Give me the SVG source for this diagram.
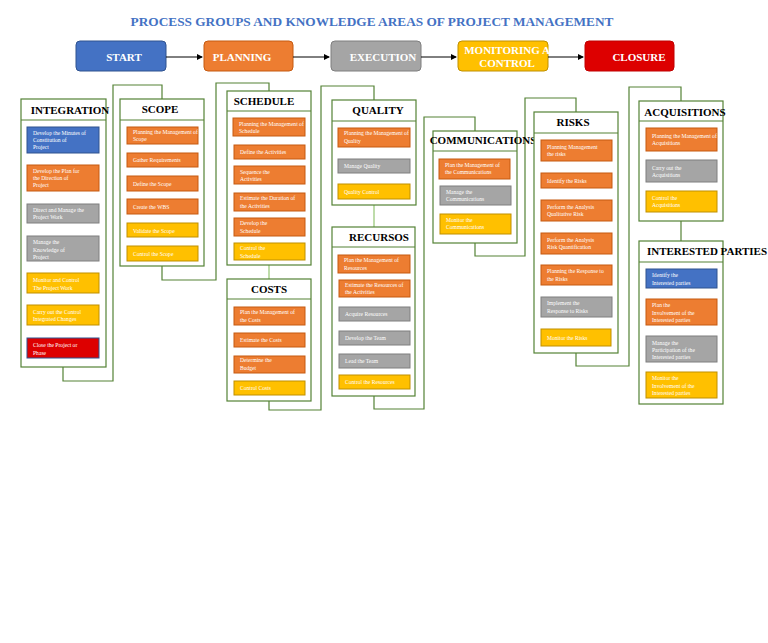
<svg xmlns="http://www.w3.org/2000/svg" width="768" height="643" viewBox="0 0 768 643">
<defs><marker id="ar" markerWidth="6" markerHeight="6" refX="5" refY="3" orient="auto"><path d="M0,0 L6,3 L0,6 z" fill="#000"/></marker></defs>
<style>
.bx{fill:#fff;stroke:#548235;stroke-width:1.2}
.ln{fill:none;stroke:#548235;stroke-width:1.2}
.lt{fill:none;stroke:#A9D18E;stroke-width:1.5}
.ar{stroke:#000;fill:none;marker-end:url(#ar)}
.h{font-family:"Liberation Serif",serif;font-weight:bold;font-size:11px;fill:#000;text-anchor:middle}
.t{font-family:"Liberation Serif",serif;font-size:5.6px;fill:#fff}
.b{fill:#4472C4;stroke:#2F528F}
.o{fill:#ED7D31;stroke:#C55A11}
.g{fill:#A5A5A5;stroke:#7F7F7F}
.y{fill:#FFC000;stroke:#BF9000}
.r{fill:#DD0000;stroke:#2F528F}
.top{font-family:"Liberation Serif",serif;font-weight:bold;font-size:11px;fill:#fff;text-anchor:middle}
</style>
<rect width="768" height="643" fill="#fff"/>
<text x="372" y="26" font-family="Liberation Serif,serif" font-weight="bold" font-size="13.3" fill="#4472C4" text-anchor="middle">PROCESS GROUPS AND KNOWLEDGE AREAS OF PROJECT MANAGEMENT</text>
<g id="phases">
<rect x="76" y="41" width="90" height="30" rx="4" fill="#4472C4" stroke="#2F528F"/><text class="top" x="124" y="61">START</text>
<rect x="204" y="41" width="89" height="30" rx="4" fill="#ED7D31" stroke="#C55A11"/><text class="top" x="242" y="61">PLANNING</text>
<rect x="331" y="41" width="90" height="30" rx="4" fill="#A5A5A5" stroke="#7F7F7F"/><text class="top" x="383" y="61">EXECUTION</text>
<rect x="458" y="41" width="90" height="30" rx="4" fill="#FFC000" stroke="#BF9000"/><text class="top" x="511" y="54">MONITORING AN</text><text class="top" x="507" y="67">CONTROL</text>
<rect x="585" y="41" width="89" height="30" rx="4" fill="#DD0000" stroke="#C00000"/><text class="top" x="639" y="61">CLOSURE</text>
</g>
<g id="connectors">
<path class="ar" d="M166,57H202"/><path class="ar" d="M293,57H329"/><path class="ar" d="M421,57H456"/><path class="ar" d="M548,57H583"/>
<path class="ln" d="M63,367V381H113V85H162V99"/>
<path class="ln" d="M162,266V280H216V83H269V91"/>
<path class="lt" d="M269,265V279"/>
<path class="ln" d="M269,401V410H321V86H374V100"/>
<path class="lt" d="M374,205V227"/>
<path class="ln" d="M374,396V409H424V117H475V131"/>
<path class="ln" d="M475,243V256H525V98H576V112"/>
<path class="ln" d="M576,353V366H629V87H681V101"/>
<path class="ln" d="M681,221V241"/>
</g>
<g id="integration">
<rect class="bx" x="21" y="99" width="85" height="268"/><path class="ln" d="M21,120H106"/><text class="h" x="70" y="114">INTEGRATION</text>
<rect class="b" x="27" y="127" width="72" height="26"/><text class="t" x="33" y="135">Develop the Minutes of<tspan x="33" dy="7">Constitution of</tspan><tspan x="33" dy="7">Project</tspan></text>
<rect class="o" x="27" y="165" width="72" height="26"/><text class="t" x="33" y="173">Develop the Plan for<tspan x="33" dy="7">the Direction of</tspan><tspan x="33" dy="7">Project</tspan></text>
<rect class="g" x="27" y="204" width="72" height="19"/><text class="t" x="33" y="212">Direct and Manage the<tspan x="33" dy="7">Project Work</tspan></text>
<rect class="g" x="27" y="236" width="72" height="25"/><text class="t" x="33" y="244">Manage the<tspan x="33" dy="8">Knowledge of</tspan><tspan x="33" dy="7">Project</tspan></text>
<rect class="y" x="27" y="273" width="72" height="20"/><text class="t" x="33" y="282">Monitor and Control<tspan x="33" dy="8">The Project Work</tspan></text>
<rect class="y" x="27" y="305" width="72" height="20"/><text class="t" x="33" y="314">Carry out the Control<tspan x="33" dy="7">Integrated Changes</tspan></text>
<rect class="r" x="27" y="338" width="72" height="20"/><text class="t" x="33" y="347">Close the Project or<tspan x="33" dy="8">Phase</tspan></text>
</g>
<g id="scope">
<rect class="bx" x="120" y="99" width="84" height="167"/><path class="ln" d="M120,120H204"/><text class="h" x="160" y="113">SCOPE</text>
<rect class="o" x="127" y="127" width="71" height="17"/><text class="t" x="133" y="134">Planning the Management of<tspan x="133" dy="7">Scope</tspan></text>
<rect class="o" x="127" y="153" width="71" height="14"/><text class="t" x="133" y="162">Gather Requirements</text>
<rect class="o" x="127" y="176" width="71" height="15"/><text class="t" x="133" y="186">Define the Scope</text>
<rect class="o" x="127" y="199" width="71" height="15"/><text class="t" x="133" y="209">Create the WBS</text>
<rect class="y" x="127" y="223" width="71" height="14"/><text class="t" x="133" y="233">Validate the Scope</text>
<rect class="y" x="127" y="246" width="71" height="15"/><text class="t" x="133" y="256">Control the Scope</text>
</g>
<g id="schedule">
<rect class="bx" x="227" y="91" width="84" height="174"/><path class="ln" d="M227,111H311"/><text class="h" x="264" y="105">SCHEDULE</text>
<rect class="o" x="233" y="118" width="72" height="18"/><text class="t" x="239" y="126">Planning the Management of<tspan x="239" dy="7">Schedule</tspan></text>
<rect class="o" x="234" y="145" width="71" height="14"/><text class="t" x="240" y="154">Define the Activities</text>
<rect class="o" x="234" y="166" width="71" height="18"/><text class="t" x="240" y="174">Sequence the<tspan x="240" dy="7">Activities</tspan></text>
<rect class="o" x="234" y="193" width="71" height="18"/><text class="t" x="240" y="200">Estimate the Duration of<tspan x="240" dy="8">the Activities</tspan></text>
<rect class="o" x="234" y="218" width="71" height="18"/><text class="t" x="240" y="225">Develop the<tspan x="240" dy="8">Schedule</tspan></text>
<rect class="y" x="234" y="243" width="71" height="17"/><text class="t" x="240" y="250">Control the<tspan x="240" dy="8">Schedule</tspan></text>
</g>
<g id="costs">
<rect class="bx" x="227" y="279" width="84" height="122"/><path class="ln" d="M227,299H311"/><text class="h" x="269" y="293">COSTS</text>
<rect class="o" x="234" y="307" width="71" height="18"/><text class="t" x="240" y="314">Plan the Management of<tspan x="240" dy="8">the Costs</tspan></text>
<rect class="o" x="234" y="333" width="71" height="14"/><text class="t" x="240" y="342">Estimate the Costs</text>
<rect class="o" x="234" y="356" width="71" height="17"/><text class="t" x="240" y="362">Determine the<tspan x="240" dy="8">Budget</tspan></text>
<rect class="y" x="234" y="381" width="71" height="14"/><text class="t" x="240" y="390">Control Costs</text>
</g>
<g id="quality">
<rect class="bx" x="332" y="100" width="84" height="105"/><path class="ln" d="M332,121H416"/><text class="h" x="378" y="114">QUALITY</text>
<rect class="o" x="338" y="128" width="72" height="19"/><text class="t" x="344" y="135">Planning the Management of<tspan x="344" dy="8">Quality</tspan></text>
<rect class="g" x="338" y="159" width="72" height="14"/><text class="t" x="344" y="168">Manage Quality</text>
<rect class="y" x="338" y="184" width="72" height="15"/><text class="t" x="344" y="194">Quality Control</text>
</g>
<g id="recursos">
<rect class="bx" x="332" y="227" width="83" height="169"/><path class="ln" d="M332,247H415"/><text class="h" x="379" y="241">RECURSOS</text>
<rect class="o" x="338" y="255" width="72" height="18"/><text class="t" x="344" y="262">Plan the Management of<tspan x="344" dy="8">Resources</tspan></text>
<rect class="o" x="339" y="280" width="71" height="17"/><text class="t" x="345" y="287">Estimate the Resources of<tspan x="345" dy="7">the Activities</tspan></text>
<rect class="g" x="339" y="307" width="71" height="14"/><text class="t" x="345" y="316">Acquire Resources</text>
<rect class="g" x="339" y="331" width="71" height="14"/><text class="t" x="345" y="340">Develop the Team</text>
<rect class="g" x="339" y="354" width="71" height="14"/><text class="t" x="345" y="363">Lead the Team</text>
<rect class="y" x="339" y="375" width="71" height="14"/><text class="t" x="345" y="384">Control the Resources</text>
</g>
<g id="communications">
<rect class="bx" x="433" y="131" width="84" height="112"/><path class="ln" d="M433,151H517"/><text class="h" x="483" y="144" font-size="9">COMMUNICATIONS</text>
<rect class="o" x="439" y="159" width="71" height="20"/><text class="t" x="445" y="167">Plan the Management of<tspan x="445" dy="7">the Communications</tspan></text>
<rect class="g" x="440" y="186" width="71" height="19"/><text class="t" x="446" y="194">Manage the<tspan x="446" dy="7">Communications</tspan></text>
<rect class="y" x="440" y="214" width="71" height="20"/><text class="t" x="446" y="222">Monitor the<tspan x="446" dy="7">Communications</tspan></text>
</g>
<g id="risks">
<rect class="bx" x="534" y="112" width="84" height="241"/><path class="ln" d="M534,133H618"/><text class="h" x="573" y="126">RISKS</text>
<rect class="o" x="541" y="140" width="71" height="21"/><text class="t" x="547" y="149">Planning Management<tspan x="547" dy="7">the risks</tspan></text>
<rect class="o" x="541" y="173" width="71" height="15"/><text class="t" x="547" y="183">Identify the Risks</text>
<rect class="o" x="541" y="200" width="71" height="21"/><text class="t" x="547" y="209">Perform the Analysis<tspan x="547" dy="7">Qualitative Risk</tspan></text>
<rect class="o" x="541" y="233" width="71" height="21"/><text class="t" x="547" y="242">Perform the Analysis<tspan x="547" dy="7">Risk Quantification</tspan></text>
<rect class="o" x="541" y="265" width="71" height="20"/><text class="t" x="547" y="273">Planning the Response to<tspan x="547" dy="8">the Risks</tspan></text>
<rect class="g" x="541" y="297" width="71" height="20"/><text class="t" x="547" y="305">Implement the<tspan x="547" dy="8">Response to Risks</tspan></text>
<rect class="y" x="541" y="329" width="70" height="17"/><text class="t" x="547" y="340">Monitor the Risks</text>
</g>
<g id="acquisitions">
<rect class="bx" x="639" y="101" width="84" height="120"/><path class="ln" d="M639,121H723"/><text class="h" x="685" y="116" font-size="10.5">ACQUISITIONS</text>
<rect class="o" x="646" y="128" width="71" height="23"/><text class="t" x="652" y="138">Planning the Management of<tspan x="652" dy="7">Acquisitions</tspan></text>
<rect class="g" x="646" y="160" width="71" height="22"/><text class="t" x="652" y="170">Carry out the<tspan x="652" dy="7">Acquisitions</tspan></text>
<rect class="y" x="646" y="191" width="71" height="21"/><text class="t" x="652" y="200">Control the<tspan x="652" dy="7">Acquisitions</tspan></text>
</g>
<g id="interested-parties">
<rect class="bx" x="639" y="241" width="84" height="163"/><path class="ln" d="M639,262H723"/><text class="h" x="707" y="255" font-size="10">INTERESTED PARTIES</text>
<rect class="b" x="646" y="269" width="71" height="19"/><text class="t" x="652" y="277">Identify the<tspan x="652" dy="8">Interested parties</tspan></text>
<rect class="o" x="646" y="299" width="71" height="26"/><text class="t" x="652" y="307">Plan the<tspan x="652" dy="8">Involvement of the</tspan><tspan x="652" dy="7">Interested parties</tspan></text>
<rect class="g" x="646" y="336" width="71" height="26"/><text class="t" x="652" y="345">Manage the<tspan x="652" dy="7">Participation of the</tspan><tspan x="652" dy="7">Interested parties</tspan></text>
<rect class="y" x="646" y="372" width="71" height="26"/><text class="t" x="652" y="380">Monitor the<tspan x="652" dy="8">Involvement of the</tspan><tspan x="652" dy="7">Interested parties</tspan></text>
</g>
</svg>
